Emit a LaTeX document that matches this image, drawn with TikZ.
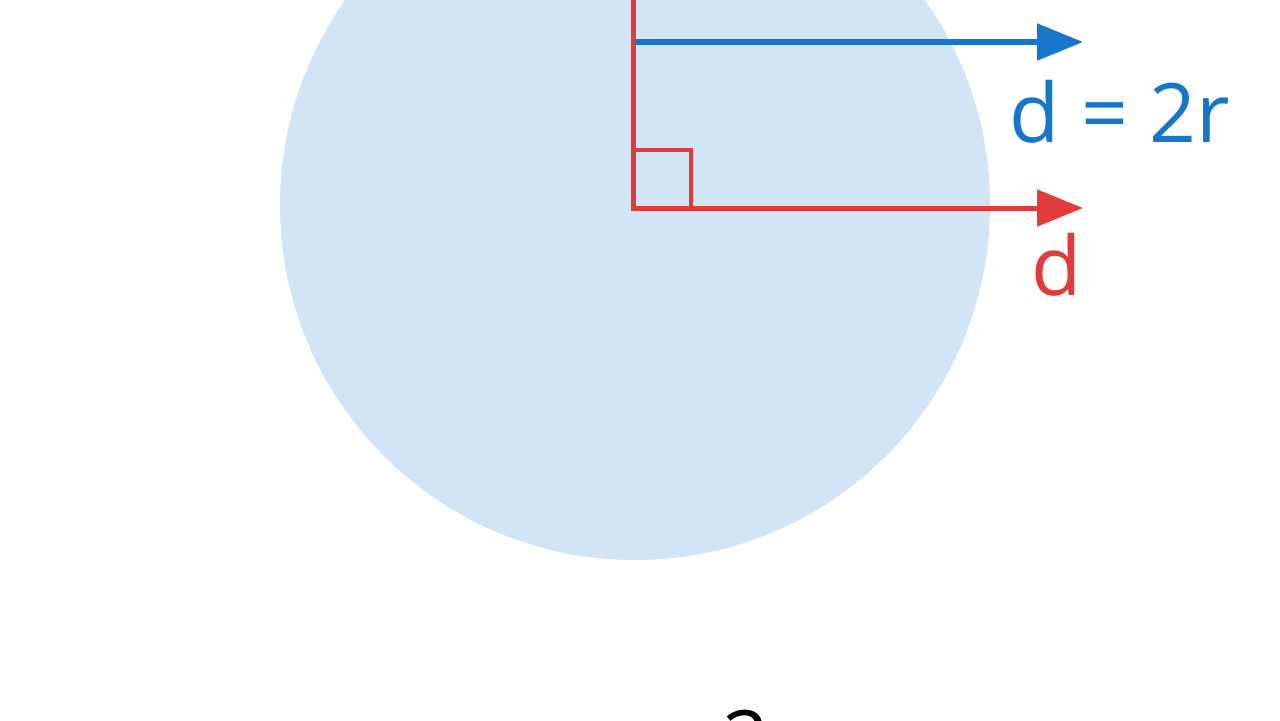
\documentclass[tikz,border=0pt]{standalone}
\usepackage{fontspec}
\setmainfont{Open Sans}
\usetikzlibrary{arrows.meta}
\definecolor{circfill}{RGB}{210,229,246}
\definecolor{myred}{RGB}{226,60,58}
\definecolor{myblue}{RGB}{22,118,201}
\tikzset{
  redline/.style={draw=myred, line width=2.5pt},
  blueline/.style={draw=myblue, line width=2.7pt},
  tip/.style={-{Triangle[length=23pt,width=18pt]}},
  lbl/.style={font=\fontsize{41}{48}\selectfont, inner sep=0pt}
}
\begin{document}
\begin{tikzpicture}[x=0.5pt,y=-0.5pt]
\useasboundingbox (0,0) rectangle (1280,720);
\clip (0,0) rectangle (1280,720);
\fill[white] (0,0) rectangle (1280,720);
\fill[circfill] (635,205) circle (355);
\coordinate (top) at (633,-20);
\coordinate (corner) at (633,208);
\coordinate (redend) at (1083,208);
\coordinate (bluestart) at (635,42);
\coordinate (blueend) at (1083,42);
\draw[redline, line cap=rect] (top) -- (corner);
\draw[redline, tip] (corner) -- (redend);
\draw[myred, line width=2.1pt] (633,150) -- (691,150) -- (691,208);
\draw[blueline, tip] (bluestart) -- (blueend);
\node[lbl, text=myblue] (dlabel) at (1120,112) {d = 2r};
\node[lbl, text=myred] (rlabel) at (1057,265) {d};
\node[lbl, text=black, anchor=base] (bottom) at (746,769) {2};
\end{tikzpicture}
\end{document}
